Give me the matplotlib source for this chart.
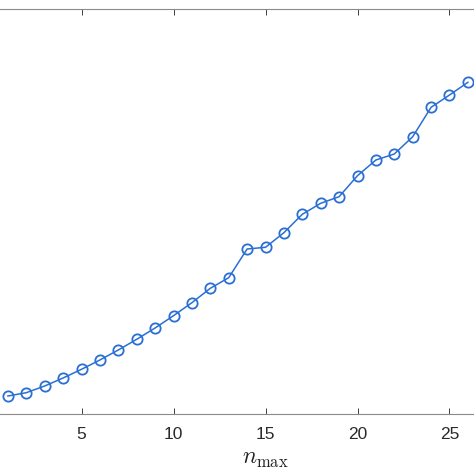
import matplotlib
matplotlib.use("Agg")
import matplotlib.pyplot as plt

n_max = list(range(1, 27))
values = [1.80, 2.13, 2.80, 3.60, 4.47, 5.40, 6.40, 7.47, 8.60, 9.83,
          11.13, 12.57, 13.63, 16.50, 16.67, 18.13, 19.97, 21.07, 21.73, 23.83,
          25.40, 26.00, 27.73, 30.67, 31.90, 33.17]
xticks = [5, 10, 15, 20, 25]

plt.rcParams['mathtext.fontset'] = 'cm'
fig = plt.figure(figsize=(4.74, 4.74), dpi=100)
W = 474.0
ax = fig.add_axes([-10.5 / W, 60 / W, 552 / W, 405 / W])
ax.plot(n_max, values, '-o', color='#2A6FD4', lw=1.1, ms=7.4,
        mfc='none', mew=1.3, clip_on=False)
ax.set_xlim(0, 30)
ax.set_ylim(0, 40.5)
ax.set_xticks(xticks)
ax.set_yticks([])
ax.tick_params(axis='x', direction='in', top=True, length=4, width=0.7,
               color='#404040', labelsize=12.5, pad=9.5, labelcolor='#2a2a2a')
for lab in ax.get_xticklabels():
    lab.set_family('Liberation Sans')
for s in ax.spines.values():
    s.set_color('#8a8a8a')
    s.set_linewidth(0.8)
ax.set_xlabel(r'$n_{\max}$', fontsize=17, labelpad=3, color='#222222')
fig.savefig('out.png', dpi=100)
